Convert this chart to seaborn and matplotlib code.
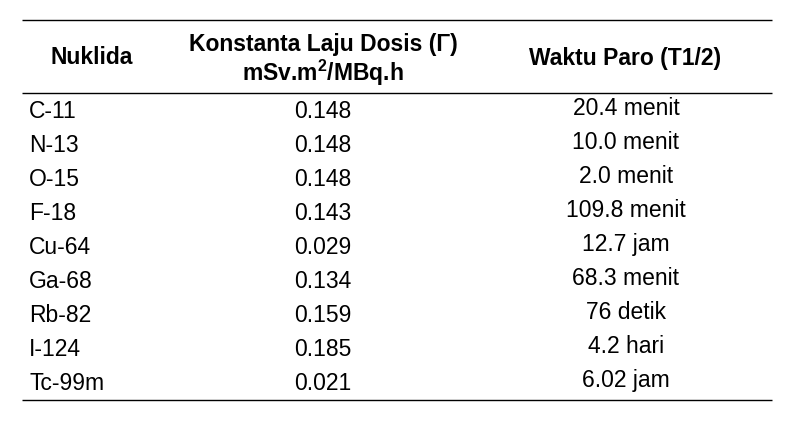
import matplotlib
matplotlib.use("Agg")
import matplotlib.pyplot as plt
import seaborn as sns

nuclides = ["C-11", "N-13", "O-15", "F-18", "Cu-64", "Ga-68", "Rb-82", "I-124", "Tc-99m"]
gamma = ["0.148", "0.148", "0.148", "0.143", "0.029", "0.134", "0.159", "0.185", "0.021"]
halflife = ["20.4 menit", "10.0 menit", "2.0 menit", "109.8 menit", "12.7 jam",
            "68.3 menit", "76 detik", "4.2 hari", "6.02 jam"]
headers = ["Nuklida", "Konstanta Laju Dosis (", "Waktu Paro (T1/2)"]

sns.set_theme(style="white")
plt.rcParams['font.family'] = ['Liberation Sans', 'DejaVu Sans']
plt.rcParams['text.color'] = 'black'
plt.rcParams['mathtext.fontset'] = 'custom'
plt.rcParams['mathtext.rm'] = 'Liberation Sans:bold'

fig = plt.figure(figsize=(7.87, 4.33), dpi=100)
ax = fig.add_axes([0, 0, 1, 1])
ax.set_xlim(0, 787)
ax.set_ylim(433, 0)
ax.axis("off")

ax.hlines([20, 93, 400], 22, 772, color="black", lw=1.0)

hs = 16.5
ax.text(92, 58, headers[0], ha="center", va="center", fontsize=hs, fontweight="bold")
ax.text(323, 45, "Konstanta Laju Dosis (Γ)", ha="center", va="center", fontsize=hs, fontweight="bold")
ax.text(323, 73, "mSv.m$^{2}$/MBq.h", ha="center", va="center", fontsize=hs, fontweight="bold")
ax.text(625, 58, headers[2], ha="center", va="center", fontsize=hs, fontweight="bold")

bs = 16.5
row_top = 93
row_h = (400 - 93) / len(nuclides)
for i, (n, g, h) in enumerate(zip(nuclides, gamma, halflife)):
    y = row_top + row_h * (i + 0.5) + 1
    ax.text(29, y, n, ha="left", va="center", fontsize=bs)
    ax.text(323, y, g, ha="center", va="center", fontsize=bs)
    ax.text(626, y - 3, h, ha="center", va="center", fontsize=bs)

fig.savefig("out.png", dpi=100, facecolor="white")
